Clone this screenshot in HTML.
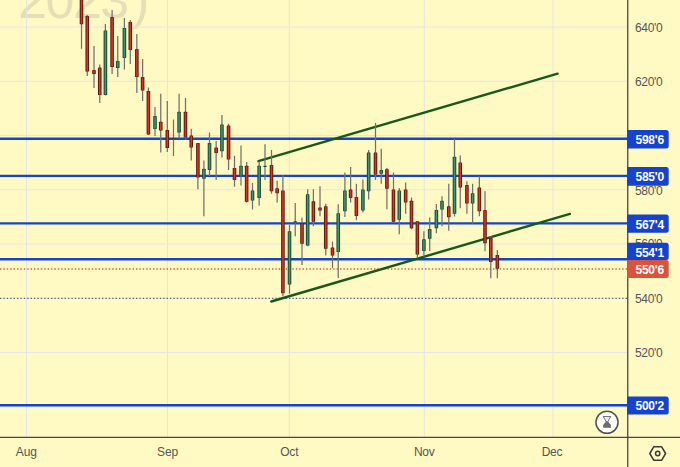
<!DOCTYPE html>
<html><head><meta charset="utf-8"><title>Chart</title>
<style>html,body{margin:0;padding:0;background:#fff9c4;}body{width:680px;height:467px;overflow:hidden;}svg{display:block;}text{font-family:"Liberation Sans",sans-serif;}</style>
</head><body>
<svg width="680" height="467" viewBox="0 0 680 467">
<rect x="0" y="0" width="680" height="467" fill="#fff9c4"/>
<text x="18.3" y="18" font-size="52" letter-spacing="-1.6" fill="#8c8c8c" fill-opacity="0.23">2023<tspan dx="4.5">)</tspan></text>
<g stroke="#e5e5e5" stroke-width="1">
<line x1="26.5" y1="0" x2="26.5" y2="437"/>
<line x1="167.5" y1="0" x2="167.5" y2="437"/>
<line x1="289.4" y1="0" x2="289.4" y2="437"/>
<line x1="424.3" y1="0" x2="424.3" y2="437"/>
<line x1="553" y1="0" x2="553" y2="437"/>
<line x1="0" y1="27" x2="627.5" y2="27"/>
<line x1="0" y1="81.25" x2="627.5" y2="81.25"/>
<line x1="0" y1="135.5" x2="627.5" y2="135.5"/>
<line x1="0" y1="189.75" x2="627.5" y2="189.75"/>
<line x1="0" y1="244" x2="627.5" y2="244"/>
<line x1="0" y1="298.25" x2="627.5" y2="298.25"/>
<line x1="0" y1="352.5" x2="627.5" y2="352.5"/>
<line x1="0" y1="406.75" x2="627.5" y2="406.75"/>
</g>
<line x1="0" y1="138.8" x2="628" y2="138.8" stroke="#1443cf" stroke-width="2.4"/>
<line x1="0" y1="175.9" x2="628" y2="175.9" stroke="#1443cf" stroke-width="2.4"/>
<line x1="0" y1="223.4" x2="628" y2="223.4" stroke="#1443cf" stroke-width="2.4"/>
<line x1="0" y1="259.2" x2="628" y2="259.2" stroke="#1443cf" stroke-width="2.4"/>
<line x1="0" y1="405.3" x2="628" y2="405.3" stroke="#1443cf" stroke-width="2.4"/>
<line x1="0" y1="269" x2="628" y2="269" stroke="#e05a42" stroke-width="1.3" stroke-dasharray="1.4 2.0"/>
<line x1="0" y1="298.4" x2="628" y2="298.4" stroke="#62626f" stroke-width="1.15" stroke-dasharray="1.35 2.05"/>
<line x1="258.4" y1="161.1" x2="557.6" y2="73.65" stroke="#17591a" stroke-width="2.4" stroke-linecap="round"/>
<line x1="271.3" y1="301.5" x2="569.9" y2="213.95" stroke="#17591a" stroke-width="2.4" stroke-linecap="round"/>
<g>
<line x1="81.50" y1="-5.00" x2="81.50" y2="48.75" stroke="#707070" stroke-width="1.25"/>
<line x1="87.25" y1="15.00" x2="87.25" y2="76.00" stroke="#707070" stroke-width="1.25"/>
<line x1="94.00" y1="46.00" x2="94.00" y2="88.00" stroke="#707070" stroke-width="1.25"/>
<line x1="99.75" y1="64.50" x2="99.75" y2="103.00" stroke="#707070" stroke-width="1.25"/>
<line x1="105.40" y1="24.00" x2="105.40" y2="95.50" stroke="#707070" stroke-width="1.25"/>
<line x1="112.10" y1="10.00" x2="112.10" y2="74.00" stroke="#707070" stroke-width="1.25"/>
<line x1="117.75" y1="36.00" x2="117.75" y2="77.00" stroke="#707070" stroke-width="1.25"/>
<line x1="124.40" y1="18.00" x2="124.40" y2="69.50" stroke="#707070" stroke-width="1.25"/>
<line x1="130.30" y1="20.00" x2="130.30" y2="64.00" stroke="#707070" stroke-width="1.25"/>
<line x1="136.85" y1="34.00" x2="136.85" y2="93.00" stroke="#707070" stroke-width="1.25"/>
<line x1="142.60" y1="59.00" x2="142.60" y2="101.00" stroke="#707070" stroke-width="1.25"/>
<line x1="148.40" y1="87.50" x2="148.40" y2="135.00" stroke="#707070" stroke-width="1.25"/>
<line x1="155.00" y1="107.00" x2="155.00" y2="136.00" stroke="#707070" stroke-width="1.25"/>
<line x1="160.75" y1="93.75" x2="160.75" y2="152.50" stroke="#707070" stroke-width="1.25"/>
<line x1="167.30" y1="101.00" x2="167.30" y2="152.00" stroke="#707070" stroke-width="1.25"/>
<line x1="173.50" y1="119.50" x2="173.50" y2="156.00" stroke="#707070" stroke-width="1.25"/>
<line x1="179.10" y1="93.75" x2="179.10" y2="138.75" stroke="#707070" stroke-width="1.25"/>
<line x1="185.50" y1="98.00" x2="185.50" y2="140.00" stroke="#707070" stroke-width="1.25"/>
<line x1="191.25" y1="128.75" x2="191.25" y2="160.50" stroke="#707070" stroke-width="1.25"/>
<line x1="197.90" y1="143.00" x2="197.90" y2="189.25" stroke="#707070" stroke-width="1.25"/>
<line x1="203.90" y1="160.50" x2="203.90" y2="216.25" stroke="#707070" stroke-width="1.25"/>
<line x1="209.50" y1="132.50" x2="209.50" y2="176.00" stroke="#707070" stroke-width="1.25"/>
<line x1="216.15" y1="141.00" x2="216.15" y2="180.00" stroke="#707070" stroke-width="1.25"/>
<line x1="221.95" y1="115.00" x2="221.95" y2="157.50" stroke="#707070" stroke-width="1.25"/>
<line x1="228.55" y1="123.75" x2="228.55" y2="170.00" stroke="#707070" stroke-width="1.25"/>
<line x1="234.50" y1="155.75" x2="234.50" y2="186.75" stroke="#707070" stroke-width="1.25"/>
<line x1="241.00" y1="145.50" x2="241.00" y2="185.50" stroke="#707070" stroke-width="1.25"/>
<line x1="246.65" y1="162.00" x2="246.65" y2="202.50" stroke="#707070" stroke-width="1.25"/>
<line x1="252.50" y1="183.00" x2="252.50" y2="209.50" stroke="#707070" stroke-width="1.25"/>
<line x1="259.15" y1="161.25" x2="259.15" y2="205.75" stroke="#707070" stroke-width="1.25"/>
<line x1="265.00" y1="144.25" x2="265.00" y2="180.00" stroke="#707070" stroke-width="1.25"/>
<line x1="271.50" y1="150.00" x2="271.50" y2="193.75" stroke="#707070" stroke-width="1.25"/>
<line x1="277.15" y1="180.75" x2="277.15" y2="202.50" stroke="#707070" stroke-width="1.25"/>
<line x1="282.90" y1="175.00" x2="282.90" y2="296.25" stroke="#707070" stroke-width="1.25"/>
<line x1="289.50" y1="225.00" x2="289.50" y2="293.75" stroke="#707070" stroke-width="1.25"/>
<line x1="295.25" y1="203.00" x2="295.25" y2="236.25" stroke="#707070" stroke-width="1.25"/>
<line x1="302.00" y1="217.50" x2="302.00" y2="265.00" stroke="#707070" stroke-width="1.25"/>
<line x1="307.65" y1="189.25" x2="307.65" y2="246.25" stroke="#707070" stroke-width="1.25"/>
<line x1="313.40" y1="189.25" x2="313.40" y2="226.25" stroke="#707070" stroke-width="1.25"/>
<line x1="320.00" y1="186.25" x2="320.00" y2="216.25" stroke="#707070" stroke-width="1.25"/>
<line x1="325.75" y1="203.75" x2="325.75" y2="255.50" stroke="#707070" stroke-width="1.25"/>
<line x1="332.50" y1="241.50" x2="332.50" y2="268.00" stroke="#707070" stroke-width="1.25"/>
<line x1="338.25" y1="204.25" x2="338.25" y2="278.00" stroke="#707070" stroke-width="1.25"/>
<line x1="344.90" y1="172.50" x2="344.90" y2="217.00" stroke="#707070" stroke-width="1.25"/>
<line x1="350.60" y1="167.00" x2="350.60" y2="202.50" stroke="#707070" stroke-width="1.25"/>
<line x1="356.40" y1="183.75" x2="356.40" y2="220.25" stroke="#707070" stroke-width="1.25"/>
<line x1="362.90" y1="179.50" x2="362.90" y2="212.50" stroke="#707070" stroke-width="1.25"/>
<line x1="368.65" y1="150.00" x2="368.65" y2="199.50" stroke="#707070" stroke-width="1.25"/>
<line x1="375.50" y1="123.00" x2="375.50" y2="180.00" stroke="#707070" stroke-width="1.25"/>
<line x1="381.25" y1="148.75" x2="381.25" y2="183.75" stroke="#707070" stroke-width="1.25"/>
<line x1="386.90" y1="168.00" x2="386.90" y2="209.25" stroke="#707070" stroke-width="1.25"/>
<line x1="393.50" y1="172.50" x2="393.50" y2="222.50" stroke="#707070" stroke-width="1.25"/>
<line x1="399.25" y1="188.00" x2="399.25" y2="234.25" stroke="#707070" stroke-width="1.25"/>
<line x1="405.65" y1="182.50" x2="405.65" y2="213.75" stroke="#707070" stroke-width="1.25"/>
<line x1="411.50" y1="197.50" x2="411.50" y2="229.25" stroke="#707070" stroke-width="1.25"/>
<line x1="417.40" y1="221.25" x2="417.40" y2="257.50" stroke="#707070" stroke-width="1.25"/>
<line x1="423.90" y1="231.25" x2="423.90" y2="257.00" stroke="#707070" stroke-width="1.25"/>
<line x1="429.70" y1="217.50" x2="429.70" y2="251.00" stroke="#707070" stroke-width="1.25"/>
<line x1="436.40" y1="204.00" x2="436.40" y2="233.25" stroke="#707070" stroke-width="1.25"/>
<line x1="442.00" y1="196.25" x2="442.00" y2="226.25" stroke="#707070" stroke-width="1.25"/>
<line x1="448.75" y1="183.75" x2="448.75" y2="230.75" stroke="#707070" stroke-width="1.25"/>
<line x1="454.50" y1="138.75" x2="454.50" y2="216.50" stroke="#707070" stroke-width="1.25"/>
<line x1="460.25" y1="155.50" x2="460.25" y2="208.25" stroke="#707070" stroke-width="1.25"/>
<line x1="466.90" y1="181.25" x2="466.90" y2="213.75" stroke="#707070" stroke-width="1.25"/>
<line x1="472.60" y1="183.75" x2="472.60" y2="223.75" stroke="#707070" stroke-width="1.25"/>
<line x1="479.35" y1="176.25" x2="479.35" y2="216.25" stroke="#707070" stroke-width="1.25"/>
<line x1="485.00" y1="191.25" x2="485.00" y2="251.25" stroke="#707070" stroke-width="1.25"/>
<line x1="490.80" y1="236.25" x2="490.80" y2="278.25" stroke="#707070" stroke-width="1.25"/>
<line x1="497.35" y1="250.00" x2="497.35" y2="278.25" stroke="#707070" stroke-width="1.25"/>
<rect x="79.70" y="-5.00" width="3.6" height="29.25" rx="0.6" fill="#64190f"/>
<rect x="80.75" y="-4.40" width="1.5" height="28.05" fill="#d03b29"/>
<rect x="85.45" y="16.00" width="3.6" height="55.50" rx="0.6" fill="#64190f"/>
<rect x="86.50" y="16.60" width="1.5" height="54.30" fill="#d03b29"/>
<rect x="92.20" y="70.00" width="3.6" height="4.00" rx="0.6" fill="#64190f"/>
<rect x="93.25" y="70.60" width="1.5" height="2.80" fill="#d03b29"/>
<rect x="97.95" y="67.50" width="3.6" height="27.50" rx="0.6" fill="#64190f"/>
<rect x="99.00" y="68.10" width="1.5" height="26.30" fill="#d03b29"/>
<rect x="103.60" y="30.50" width="3.6" height="64.50" rx="0.6" fill="#1d4a36"/>
<rect x="104.65" y="31.10" width="1.5" height="63.30" fill="#44966f"/>
<rect x="110.30" y="17.00" width="3.6" height="50.00" rx="0.6" fill="#64190f"/>
<rect x="111.35" y="17.60" width="1.5" height="48.80" fill="#d03b29"/>
<rect x="115.95" y="61.00" width="3.6" height="7.00" rx="0.6" fill="#1d4a36"/>
<rect x="117.00" y="61.60" width="1.5" height="5.80" fill="#44966f"/>
<rect x="122.60" y="28.00" width="3.6" height="30.00" rx="0.6" fill="#1d4a36"/>
<rect x="123.65" y="28.60" width="1.5" height="28.80" fill="#44966f"/>
<rect x="128.50" y="22.00" width="3.6" height="28.00" rx="0.6" fill="#64190f"/>
<rect x="129.55" y="22.60" width="1.5" height="26.80" fill="#d03b29"/>
<rect x="135.05" y="49.00" width="3.6" height="28.00" rx="0.6" fill="#64190f"/>
<rect x="136.10" y="49.60" width="1.5" height="26.80" fill="#d03b29"/>
<rect x="140.80" y="77.00" width="3.6" height="13.50" rx="0.6" fill="#64190f"/>
<rect x="141.85" y="77.60" width="1.5" height="12.30" fill="#d03b29"/>
<rect x="146.60" y="91.00" width="3.6" height="43.50" rx="0.6" fill="#64190f"/>
<rect x="147.65" y="91.60" width="1.5" height="42.30" fill="#d03b29"/>
<rect x="153.20" y="116.00" width="3.6" height="13.00" rx="0.6" fill="#1d4a36"/>
<rect x="154.25" y="116.60" width="1.5" height="11.80" fill="#44966f"/>
<rect x="158.95" y="121.75" width="3.6" height="8.75" rx="0.6" fill="#64190f"/>
<rect x="160.00" y="122.35" width="1.5" height="7.55" fill="#d03b29"/>
<rect x="165.50" y="130.00" width="3.6" height="18.00" rx="0.6" fill="#64190f"/>
<rect x="166.55" y="130.60" width="1.5" height="16.80" fill="#d03b29"/>
<rect x="171.70" y="138.00" width="3.6" height="1.20" rx="0.6" fill="#1d4a36"/>
<rect x="177.30" y="111.75" width="3.6" height="20.75" rx="0.6" fill="#1d4a36"/>
<rect x="178.35" y="112.35" width="1.5" height="19.55" fill="#44966f"/>
<rect x="183.70" y="111.75" width="3.6" height="25.75" rx="0.6" fill="#64190f"/>
<rect x="184.75" y="112.35" width="1.5" height="24.55" fill="#d03b29"/>
<rect x="189.45" y="135.50" width="3.6" height="12.00" rx="0.6" fill="#64190f"/>
<rect x="190.50" y="136.10" width="1.5" height="10.80" fill="#d03b29"/>
<rect x="196.10" y="143.00" width="3.6" height="34.50" rx="0.6" fill="#64190f"/>
<rect x="197.15" y="143.60" width="1.5" height="33.30" fill="#d03b29"/>
<rect x="202.10" y="168.75" width="3.6" height="10.00" rx="0.6" fill="#1d4a36"/>
<rect x="203.15" y="169.35" width="1.5" height="8.80" fill="#44966f"/>
<rect x="207.70" y="143.00" width="3.6" height="27.00" rx="0.6" fill="#1d4a36"/>
<rect x="208.75" y="143.60" width="1.5" height="25.80" fill="#44966f"/>
<rect x="214.35" y="147.50" width="3.6" height="5.50" rx="0.6" fill="#64190f"/>
<rect x="215.40" y="148.10" width="1.5" height="4.30" fill="#d03b29"/>
<rect x="220.15" y="124.50" width="3.6" height="26.75" rx="0.6" fill="#1d4a36"/>
<rect x="221.20" y="125.10" width="1.5" height="25.55" fill="#44966f"/>
<rect x="226.75" y="125.50" width="3.6" height="34.00" rx="0.6" fill="#64190f"/>
<rect x="227.80" y="126.10" width="1.5" height="32.80" fill="#d03b29"/>
<rect x="232.70" y="168.00" width="3.6" height="12.00" rx="0.6" fill="#64190f"/>
<rect x="233.75" y="168.60" width="1.5" height="10.80" fill="#d03b29"/>
<rect x="239.20" y="165.75" width="3.6" height="10.50" rx="0.6" fill="#1d4a36"/>
<rect x="240.25" y="166.35" width="1.5" height="9.30" fill="#44966f"/>
<rect x="244.85" y="165.75" width="3.6" height="36.00" rx="0.6" fill="#64190f"/>
<rect x="245.90" y="166.35" width="1.5" height="34.80" fill="#d03b29"/>
<rect x="250.70" y="190.50" width="3.6" height="10.00" rx="0.6" fill="#1d4a36"/>
<rect x="251.75" y="191.10" width="1.5" height="8.80" fill="#44966f"/>
<rect x="257.35" y="165.75" width="3.6" height="32.25" rx="0.6" fill="#1d4a36"/>
<rect x="258.40" y="166.35" width="1.5" height="31.05" fill="#44966f"/>
<rect x="263.20" y="165.75" width="3.6" height="1.20" rx="0.6" fill="#1d4a36"/>
<rect x="269.70" y="165.00" width="3.6" height="26.25" rx="0.6" fill="#64190f"/>
<rect x="270.75" y="165.60" width="1.5" height="25.05" fill="#d03b29"/>
<rect x="275.35" y="188.25" width="3.6" height="5.00" rx="0.6" fill="#64190f"/>
<rect x="276.40" y="188.85" width="1.5" height="3.80" fill="#d03b29"/>
<rect x="281.10" y="190.50" width="3.6" height="102.75" rx="0.6" fill="#64190f"/>
<rect x="282.15" y="191.10" width="1.5" height="101.55" fill="#d03b29"/>
<rect x="287.70" y="231.25" width="3.6" height="53.25" rx="0.6" fill="#1d4a36"/>
<rect x="288.75" y="231.85" width="1.5" height="52.05" fill="#44966f"/>
<rect x="293.45" y="221.25" width="3.6" height="1.25" rx="0.6" fill="#1d4a36"/>
<rect x="300.20" y="223.00" width="3.6" height="20.75" rx="0.6" fill="#64190f"/>
<rect x="301.25" y="223.60" width="1.5" height="19.55" fill="#d03b29"/>
<rect x="305.85" y="194.25" width="3.6" height="51.25" rx="0.6" fill="#1d4a36"/>
<rect x="306.90" y="194.85" width="1.5" height="50.05" fill="#44966f"/>
<rect x="311.60" y="201.25" width="3.6" height="20.50" rx="0.6" fill="#64190f"/>
<rect x="312.65" y="201.85" width="1.5" height="19.30" fill="#d03b29"/>
<rect x="318.20" y="207.50" width="3.6" height="3.00" rx="0.6" fill="#64190f"/>
<rect x="319.25" y="208.10" width="1.5" height="1.80" fill="#d03b29"/>
<rect x="323.95" y="206.25" width="3.6" height="42.50" rx="0.6" fill="#64190f"/>
<rect x="325.00" y="206.85" width="1.5" height="41.30" fill="#d03b29"/>
<rect x="330.70" y="247.50" width="3.6" height="8.00" rx="0.6" fill="#64190f"/>
<rect x="331.75" y="248.10" width="1.5" height="6.80" fill="#d03b29"/>
<rect x="336.45" y="213.25" width="3.6" height="38.75" rx="0.6" fill="#1d4a36"/>
<rect x="337.50" y="213.85" width="1.5" height="37.55" fill="#44966f"/>
<rect x="343.10" y="190.50" width="3.6" height="20.75" rx="0.6" fill="#1d4a36"/>
<rect x="344.15" y="191.10" width="1.5" height="19.55" fill="#44966f"/>
<rect x="348.80" y="189.50" width="3.6" height="8.50" rx="0.6" fill="#64190f"/>
<rect x="349.85" y="190.10" width="1.5" height="7.30" fill="#d03b29"/>
<rect x="354.60" y="197.00" width="3.6" height="19.00" rx="0.6" fill="#64190f"/>
<rect x="355.65" y="197.60" width="1.5" height="17.80" fill="#d03b29"/>
<rect x="361.10" y="189.50" width="3.6" height="21.00" rx="0.6" fill="#1d4a36"/>
<rect x="362.15" y="190.10" width="1.5" height="19.80" fill="#44966f"/>
<rect x="366.85" y="152.50" width="3.6" height="38.75" rx="0.6" fill="#1d4a36"/>
<rect x="367.90" y="153.10" width="1.5" height="37.55" fill="#44966f"/>
<rect x="373.70" y="152.50" width="3.6" height="22.00" rx="0.6" fill="#64190f"/>
<rect x="374.75" y="153.10" width="1.5" height="20.80" fill="#d03b29"/>
<rect x="379.45" y="170.10" width="3.6" height="3.60" rx="0.6" fill="#1d4a36"/>
<rect x="380.50" y="170.70" width="1.5" height="2.40" fill="#44966f"/>
<rect x="385.10" y="169.25" width="3.6" height="19.50" rx="0.6" fill="#64190f"/>
<rect x="386.15" y="169.85" width="1.5" height="18.30" fill="#d03b29"/>
<rect x="391.70" y="189.50" width="3.6" height="32.25" rx="0.6" fill="#64190f"/>
<rect x="392.75" y="190.10" width="1.5" height="31.05" fill="#d03b29"/>
<rect x="397.45" y="190.50" width="3.6" height="29.25" rx="0.6" fill="#1d4a36"/>
<rect x="398.50" y="191.10" width="1.5" height="28.05" fill="#44966f"/>
<rect x="403.85" y="189.50" width="3.6" height="13.00" rx="0.6" fill="#64190f"/>
<rect x="404.90" y="190.10" width="1.5" height="11.80" fill="#d03b29"/>
<rect x="409.70" y="200.75" width="3.6" height="27.50" rx="0.6" fill="#64190f"/>
<rect x="410.75" y="201.35" width="1.5" height="26.30" fill="#d03b29"/>
<rect x="415.60" y="221.25" width="3.6" height="33.25" rx="0.6" fill="#64190f"/>
<rect x="416.65" y="221.85" width="1.5" height="32.05" fill="#d03b29"/>
<rect x="422.10" y="239.25" width="3.6" height="11.75" rx="0.6" fill="#1d4a36"/>
<rect x="423.15" y="239.85" width="1.5" height="10.55" fill="#44966f"/>
<rect x="427.90" y="229.00" width="3.6" height="9.75" rx="0.6" fill="#1d4a36"/>
<rect x="428.95" y="229.60" width="1.5" height="8.55" fill="#44966f"/>
<rect x="434.60" y="210.00" width="3.6" height="18.25" rx="0.6" fill="#1d4a36"/>
<rect x="435.65" y="210.60" width="1.5" height="17.05" fill="#44966f"/>
<rect x="440.20" y="200.75" width="3.6" height="8.75" rx="0.6" fill="#1d4a36"/>
<rect x="441.25" y="201.35" width="1.5" height="7.55" fill="#44966f"/>
<rect x="446.95" y="206.25" width="3.6" height="11.00" rx="0.6" fill="#64190f"/>
<rect x="448.00" y="206.85" width="1.5" height="9.80" fill="#d03b29"/>
<rect x="452.70" y="156.75" width="3.6" height="57.00" rx="0.6" fill="#1d4a36"/>
<rect x="453.75" y="157.35" width="1.5" height="55.80" fill="#44966f"/>
<rect x="458.45" y="162.50" width="3.6" height="25.00" rx="0.6" fill="#64190f"/>
<rect x="459.50" y="163.10" width="1.5" height="23.80" fill="#d03b29"/>
<rect x="465.10" y="185.00" width="3.6" height="18.50" rx="0.6" fill="#64190f"/>
<rect x="466.15" y="185.60" width="1.5" height="17.30" fill="#d03b29"/>
<rect x="470.80" y="193.25" width="3.6" height="10.25" rx="0.6" fill="#1d4a36"/>
<rect x="471.85" y="193.85" width="1.5" height="9.05" fill="#44966f"/>
<rect x="477.55" y="187.50" width="3.6" height="23.75" rx="0.6" fill="#64190f"/>
<rect x="478.60" y="188.10" width="1.5" height="22.55" fill="#d03b29"/>
<rect x="483.20" y="210.00" width="3.6" height="33.25" rx="0.6" fill="#64190f"/>
<rect x="484.25" y="210.60" width="1.5" height="32.05" fill="#d03b29"/>
<rect x="489.00" y="238.00" width="3.6" height="24.00" rx="0.6" fill="#64190f"/>
<rect x="490.05" y="238.60" width="1.5" height="22.80" fill="#d03b29"/>
<rect x="495.55" y="255.00" width="3.6" height="13.75" rx="0.6" fill="#64190f"/>
<rect x="496.60" y="255.60" width="1.5" height="12.55" fill="#d03b29"/>
</g>
<line x1="627.75" y1="0" x2="627.75" y2="467" stroke="#484848" stroke-width="1.3"/>
<line x1="0" y1="437.3" x2="680" y2="437.3" stroke="#484848" stroke-width="1.3"/>
<g font-size="12" fill="#555555" letter-spacing="-0.35">
<text x="635" y="31.60">640'0</text>
<text x="635" y="85.85">620'0</text>
<text x="635" y="194.60">580'0</text>
<text x="635" y="248.35">560'0</text>
<text x="635" y="302.85">540'0</text>
<text x="635" y="357.10">520'0</text>
</g>
<path d="M627.10 129.90 H666.20 Q668.70 129.90 668.70 132.40 V146.10 Q668.70 148.60 666.20 148.60 H627.10 Z" fill="#1443cf"/>
<text x="635.5" y="144.20" font-size="12" font-weight="bold" fill="#ffffff" letter-spacing="-0.25">598'6</text>
<path d="M627.10 167.00 H666.20 Q668.70 167.00 668.70 169.50 V183.20 Q668.70 185.70 666.20 185.70 H627.10 Z" fill="#1443cf"/>
<text x="635.5" y="181.30" font-size="12" font-weight="bold" fill="#ffffff" letter-spacing="-0.25">585'0</text>
<path d="M627.10 214.60 H666.20 Q668.70 214.60 668.70 217.10 V230.30 Q668.70 232.80 666.20 232.80 H627.10 Z" fill="#1443cf"/>
<text x="635.5" y="228.65" font-size="12" font-weight="bold" fill="#ffffff" letter-spacing="-0.25">567'4</text>
<path d="M627.10 242.70 H666.20 Q668.70 242.70 668.70 245.20 V257.40 Q668.70 259.90 666.20 259.90 H627.10 Z" fill="#1443cf"/>
<text x="635.5" y="257.00" font-size="12" font-weight="bold" fill="#ffffff" letter-spacing="-0.25">554'1</text>
<path d="M627.10 259.90 H666.20 Q668.70 259.90 668.70 262.40 V275.60 Q668.70 278.10 666.20 278.10 H627.10 Z" fill="#d9533f"/>
<text x="635.5" y="273.95" font-size="12" font-weight="bold" fill="#ffffff" letter-spacing="-0.25">550'6</text>
<path d="M627.10 396.40 H666.20 Q668.70 396.40 668.70 398.90 V412.10 Q668.70 414.60 666.20 414.60 H627.10 Z" fill="#1443cf"/>
<text x="635.5" y="410.45" font-size="12" font-weight="bold" fill="#ffffff" letter-spacing="-0.25">500'2</text>
<g font-size="12" fill="#555555" text-anchor="middle" letter-spacing="-0.2">
<text x="26.25" y="455.7">Aug</text>
<text x="167.5" y="455.7">Sep</text>
<text x="289.25" y="455.7">Oct</text>
<text x="424.25" y="455.7">Nov</text>
<text x="552" y="455.7">Dec</text>
</g>
<circle cx="607" cy="422.3" r="11.05" fill="#fffef4" stroke="#50505c" stroke-width="1.5"/>
<path d="M602.9 416.6 H611.1" stroke="#74747f" stroke-width="1.2" fill="none"/>
<path d="M603.6 417 L606.2 421.8 H607.8 L610.4 417" fill="#ecebe6" stroke="#74747f" stroke-width="1"/>
<path d="M606 421.6 H608 L610.9 425 V427.8 H603.1 V425 Z" fill="#6a6a76"/>
<path d="M649.8 453.5 L653.7 446.8 H661.7 L665.6 453.5 L661.7 460.2 H653.7 Z" fill="none" stroke="#3a3a3a" stroke-width="1.5" stroke-linejoin="round"/>
<circle cx="657.7" cy="453.5" r="2.2" fill="none" stroke="#3a3a3a" stroke-width="1.4"/>
</svg>
</body></html>
